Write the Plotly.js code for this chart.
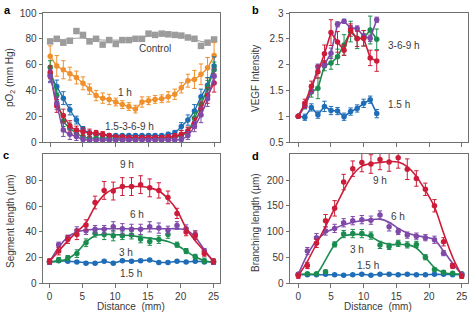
<!DOCTYPE html>
<html><head><meta charset="utf-8">
<script src="https://cdn.plot.ly/plotly-3.0.1.min.js"></script>
<style>html,body{margin:0;padding:0;background:#fff}#chart{width:474px;height:321px}</style>
</head><body><div id="chart"></div>
<script>
// ---------- Panel a: pO2 (mm Hg) vs distance (mm) ----------
const aX = [0,1,2,3,4,5,6,7,8,9,10,11,12,13,14,15,16,17,18,19,20,21,22,23,24,25];
const aControl = [78,80,77,78.5,86,83,78,80,75.5,79,76,79,79,80,80,84,83,84,83.5,83,82.5,81,80,74.5,77,79.5];
const aControlFit = [78.5,79,79.5,80,80.5,80.5,80,79.5,79,79,79,79,79.5,80,81,82,83,83.5,83.5,83,82,81,79.5,78,77.5,78.5];
const a1h = [66.5,59,56,53,50,45.5,41,36,34,33,31,29,27.5,25.5,31,32,33,33.5,35,37,42,47.5,48.5,52.5,57.5,67];
const a1hErr = [8,8,7,5,5,5,4,4,4,4,3,3,3,3,4,3,3,3,4,4,4,5,7,8,8,10];
const a15h = [52,43,34,25,17,10,7,6,5.5,5,5,5,5,5,5,5,5,5,6,7,12,17,24,35,44,59];
const a15hErr = [5,5,5,4,3,2,1.5,1,1,1,1,1,1,1,1,1,1,1,1.5,2,3,4,5,6,6,7];
const a3h = [58,36,16,10.7,6.8,4,3,3,3,3,3,3,3,3,3,3,3,3,3,3.5,5,8,18.5,28.8,41.8,56];
const a3hErr = [5,5,4,4,3,2,1,1,1,1,1,1,1,1,1,1,1,1,1,1,2,3,4,5,6,6];
const a9h = [54,28,20.5,12.5,9.3,8,7,7,6,5,4,4,3.5,3.5,3.5,3.5,3.5,3.5,4,4.5,6,8.6,14.6,26,36,45.7];
const a9hErr = [5,5,5,4,3,3,3,2,2,1,1,1,1,1,1,1,1,1,1,2,3,3,4,5,6,7];
const a6h = [51,30,9.3,6,4.2,2,1.5,1.5,1.5,1.5,1.5,1.5,1.5,1.5,1.5,1.5,1.5,1.5,1.5,1.5,2,5,12,21,33.6,51];
const a6hErr = [5,5,5,4,3,2,1,1,1,1,1,1,1,1,1,1,1,1,1,1,2,3,4,6,6,6];

// ---------- Panel b: VEGF intensity ----------
const bX = [0,1,2,3,4,5,6,7,8,9,10,11,12];
const b15h = [1.0,0.98,1.17,1.03,1.19,1.11,1.10,0.99,1.09,1.15,1.25,1.32,1.05];
const b15hErr = [0,0.06,0.07,0.07,0.1,0.08,0.07,0.07,0.07,0.07,0.08,0.07,0.08];
const b9h = [1.0,1.25,1.58,1.86,2.21,2.62,2.44,2.28,2.67,2.5,2.51,2.13,2.07];
const b9hErr = [0,0.08,0.1,0.12,0.17,0.25,0.2,0.1,0.12,0.15,0.15,0.15,0.2];
const b3h = [1.0,1.2,1.47,1.54,1.98,2.03,2.15,2.38,2.64,2.51,2.51,2.67,2.49];
const b3hErr = [0,0.06,0.1,0.2,0.1,0.12,0.15,0.2,0.2,0.2,0.15,0.27,0.2];
const b6h = [1.0,1.2,1.5,1.96,2.0,2.22,2.78,2.84,2.71,2.7,2.55,2.51,2.87];
const b6hErr = [0,0.05,0.06,0.05,0.06,0.1,0.05,0.04,0.05,0.05,0.05,0.06,0.05];

// ---------- Panels c/d shared distances ----------
const cdX = [0,1.39,2.78,4.17,5.56,6.94,8.33,9.72,11.11,12.5,13.89,15.28,16.67,18.06,19.44,20.83,22.22,23.61,25];

// Panel c: segment length (µm)
const c9h = [17,25,34,38,45.5,63,72.5,72,75.5,75.5,77,74.5,72.5,67,54.5,40,37,23,17];
const c9hErr = [2,3,3,4,4,5,7,7,7,7,7,7,6,5,4,3,3,2,2];
const c9hFit = [17,25,33,40,47,60,69,73.5,75,75.5,75.5,74.5,72,66,57,43,33,25,17];
const c6h = [16.5,30,35.5,41,41,42,42,44,42.5,42,42,44,43,41.5,45,42.5,38,25,16.5];
const c6hErr = [2,2,2,3,3,3,3,4,4,4,4,4,4,3,3,3,3,2,2];
const c6hFit = [16.5,28,36,40,41.5,42,42.5,42.5,42.5,42.5,42.5,42.5,42.5,42.5,42.5,41.5,36,26,16.5];
const c3h = [16.5,18,19.5,23,31.5,39,38,37,37,37.5,34.5,32.5,34,38,30,25,20.5,17.5,16.5];
const c3hErr = [2,2,2,3,3,3,4,4,3,3,3,3,3,3,2,2,2,2,2];
const c3hFit = [16.5,17,19,24,32,37,38,38,37.5,37,36,35,34,32.5,29.5,25,20.5,17.5,16.5];
const c15h = [16.5,17.5,17,16.5,15.5,15.5,17,15.5,17.5,17,17.5,18,16,16,17,16.5,17,16.5,16.5];
const c15hErr = [1,1,1,1,1,1,1,1,1,1,1,1,1,1,1,1,1,1,1];

// Panel d: branching length (µm)
const d9h = [14,34,77,121,145,196,222,234,231,240,235,243,221,203,182,150,80,33,13];
const d9hErr = [5,6,8,12,15,15,15,18,18,20,18,20,20,15,12,12,8,5,4];
const d9hFit = [14,42,76,110,145,180,210,227,232,234,236,235,226,207,180,148,97,50,14];
const d6h = [17,62,88,101,106,117,121,123,122,132,109,100,93,91,88,84,58,34,17];
const d6hErr = [3,7,8,8,8,8,8,8,8,8,8,6,6,6,6,7,5,4,3];
const d6hFit = [17,55,82,98,106,113,118,121,123,124,118,106,97,92,89,84,62,38,17];
const d3h = [17,18,18,22,75,95,96,96,92,74,71,77,74,75,50,26,21,19,18];
const d3hErr = [2,2,2,3,5,7,8,8,7,7,6,6,6,6,5,3,3,2,2];
const d3hFit = [17,17.5,18,45,75,91,94,94,90,80,75,74.5,74.5,68,50,30,20,18,17.5];
const d15h = [16,16,16,17,16,15,16,17,15,17,17,16,17,16,16,17,17,16,16];
const d15hErr = [2,2,2,2,2,2,2,2,2,2,2,2,2,2,2,2,2,2,2];

// ---------- styling ----------
const W = 474, H = 321;
const FONT = 'Liberation Sans, Arial, Helvetica, sans-serif';
const COL = {red:'#cc1c3a', purple:'#7e49a8', green:'#1b8c4f', blue:'#1f6db6', orange:'#f0902c', gray:'#9c9c9c'};
const TXT = '#3a3a3a';

function pts(x, y, err, color, ax, opts) {
  const t = {
    type:'scatter', mode:'markers', x:x, y:y, xaxis:'x'+ax, yaxis:'y'+ax,
    marker:{color:color, size:5.5, symbol:'circle', line:{width:0}},
    showlegend:false, hoverinfo:'skip'
  };
  if (err) t.error_y = {type:'data', array:err, visible:true, color:color, thickness:1, width:2.2};
  return Object.assign(t, opts || {});
}
function line(x, y, color, ax, opts) {
  return Object.assign({
    type:'scatter', mode:'lines', x:x, y:y, xaxis:'x'+ax, yaxis:'y'+ax,
    line:{color:color, width:1.6, shape:'spline', smoothing:0.8},
    showlegend:false, hoverinfo:'skip'
  }, opts || {});
}

const traces = [
  // a
  line(aX, aControlFit, COL.gray, '', {line:{color:COL.gray, width:1, shape:'spline', smoothing:1}}),
  pts(aX, aControl, null, COL.gray, '', {marker:{color:COL.gray, size:6.5, symbol:'square'}}),
  line(aX, a1h, COL.orange, '', {line:{color:COL.orange, width:1.4, shape:'spline', smoothing:0.5}}),
  pts(aX, a1h, a1hErr, COL.orange, ''),
  line(aX, a15h, COL.blue, '', {line:{color:COL.blue, width:1.4, shape:'spline', smoothing:0.5}}),
  pts(aX, a15h, a15hErr, COL.blue, ''),
  line(aX, a3h, COL.green, '', {line:{color:COL.green, width:1.4, shape:'spline', smoothing:0.5}}),
  pts(aX, a3h, a3hErr, COL.green, ''),
  line(aX, a9h, COL.red, '', {line:{color:COL.red, width:1.4, shape:'spline', smoothing:0.5}}),
  pts(aX, a9h, a9hErr, COL.red, ''),
  line(aX, a6h, COL.purple, '', {line:{color:COL.purple, width:1.4, shape:'spline', smoothing:0.5}}),
  pts(aX, a6h, a6hErr, COL.purple, ''),
  // b
  line(bX, b15h, COL.blue, '2', {line:{color:COL.blue, width:1.6}}),
  pts(bX, b15h, b15hErr, COL.blue, '2'),
  line(bX, b3h, COL.green, '2', {line:{color:COL.green, width:1.6}}),
  pts(bX, b3h, b3hErr, COL.green, '2'),
  line(bX, b6h, COL.purple, '2', {line:{color:COL.purple, width:1.6}}),
  pts(bX, b6h, b6hErr, COL.purple, '2'),
  line(bX, b9h, COL.red, '2', {line:{color:COL.red, width:1.6}}),
  pts(bX, b9h, b9hErr, COL.red, '2'),
  // c
  line(cdX, c15h, COL.blue, '3', {line:{color:COL.blue, width:1.6}}),
  pts(cdX, c15h, c15hErr, COL.blue, '3'),
  line(cdX, c3hFit, COL.green, '3'),
  pts(cdX, c3h, c3hErr, COL.green, '3'),
  line(cdX, c6hFit, COL.purple, '3'),
  pts(cdX, c6h, c6hErr, COL.purple, '3'),
  line(cdX, c9hFit, COL.red, '3'),
  pts(cdX, c9h, c9hErr, COL.red, '3'),
  // d
  line(cdX, d15h, COL.blue, '4', {line:{color:COL.blue, width:1.6}}),
  pts(cdX, d15h, d15hErr, COL.blue, '4'),
  line(cdX, d3hFit, COL.green, '4'),
  pts(cdX, d3h, d3hErr, COL.green, '4'),
  line(cdX, d6hFit, COL.purple, '4'),
  pts(cdX, d6h, d6hErr, COL.purple, '4'),
  line(cdX, d9hFit, COL.red, '4'),
  pts(cdX, d9h, d9hErr, COL.red, '4')
];

const axBase = {
  showline:true, linecolor:'#707070', linewidth:1, mirror:true,
  ticks:'outside', ticklen:3.5, tickwidth:1, tickcolor:'#707070',
  showgrid:false, zeroline:false, fixedrange:true,
  tickfont:{family:FONT, size:10, color:TXT}
};
function ax(o) { return Object.assign({}, axBase, o); }
const xdomL = [43/W, 220/W], xdomR = [290/W, 468/W];
const ydomT = [1-142/H, 1-13/H], ydomB = [1-283/H, 1-154/H];
const distTicks = [0,5,10,15,20,25];

function px(x){return x/W;} function py(y){return 1-y/H;}
function ann(text, x, y, o) {
  return Object.assign({text:text, x:px(x), y:py(y), xref:'paper', yref:'paper',
    showarrow:false, xanchor:'center', yanchor:'middle',
    font:{family:FONT, size:10, color:TXT}}, o || {});
}
const bold = {font:{family:FONT, size:11, color:'#000', weight:'bold'}};

const layout = {
  width:W, height:H, margin:{l:0, r:0, t:0, b:0},
  paper_bgcolor:'#fff', plot_bgcolor:'#fff', showlegend:false,
  xaxis:  ax({domain:xdomL, anchor:'y',  range:[-1.1,25.9], tickvals:distTicks, showticklabels:false}),
  yaxis:  ax({domain:ydomT, anchor:'x',  range:[0,100], tickvals:[0,20,40,60,80,100]}),
  xaxis2: ax({domain:xdomR, anchor:'y2', range:[-1.27,25.96], tickvals:distTicks, showticklabels:false}),
  yaxis2: ax({domain:ydomT, anchor:'x2', range:[0.5,3], tickvals:[0.5,1,1.5,2,2.5,3], ticktext:['0.5','1','1.5','2','2.5','3']}),
  xaxis3: ax({domain:xdomL, anchor:'y3', range:[-1.0,26.0], tickvals:distTicks}),
  yaxis3: ax({domain:ydomB, anchor:'x3', range:[0,101], tickvals:[0,20,40,60,80]}),
  xaxis4: ax({domain:xdomR, anchor:'y4', range:[-1.27,25.96], tickvals:distTicks}),
  yaxis4: ax({domain:ydomB, anchor:'x4', range:[0,250.5], tickvals:[0,50,100,150,200]}),
  annotations: [
    ann('a', 8, 10, bold), ann('b', 255, 10, bold), ann('c', 6, 155, bold), ann('d', 255, 156, bold),
    ann('pO<sub>2</sub> (mm Hg)', 10, 78, {textangle:-90}),
    ann('VEGF Intensity', 255, 79, {textangle:-90}),
    ann('Segment length (µm)', 10, 221, {textangle:-90}),
    ann('Branching length (µm)', 255, 223, {textangle:-90}),
    ann('Distance  (mm)', 131, 306), ann('Distance  (mm)', 378, 306),
    ann('Control', 155, 48), ann('1 h', 125, 92), ann('1.5-3-6-9 h', 129, 126),
    ann('3-6-9 h', 404, 45), ann('1.5 h', 399, 105),
    ann('9 h', 127, 165), ann('6 h', 137, 214), ann('3 h', 126, 252), ann('1.5 h', 131, 273),
    ann('9 h', 380, 181), ann('6 h', 398, 216), ann('3 h', 357, 249), ann('1.5 h', 368, 265)
  ]
};

Plotly.newPlot('chart', traces, layout, {staticPlot:true, displayModeBar:false});
</script>
</body></html>
